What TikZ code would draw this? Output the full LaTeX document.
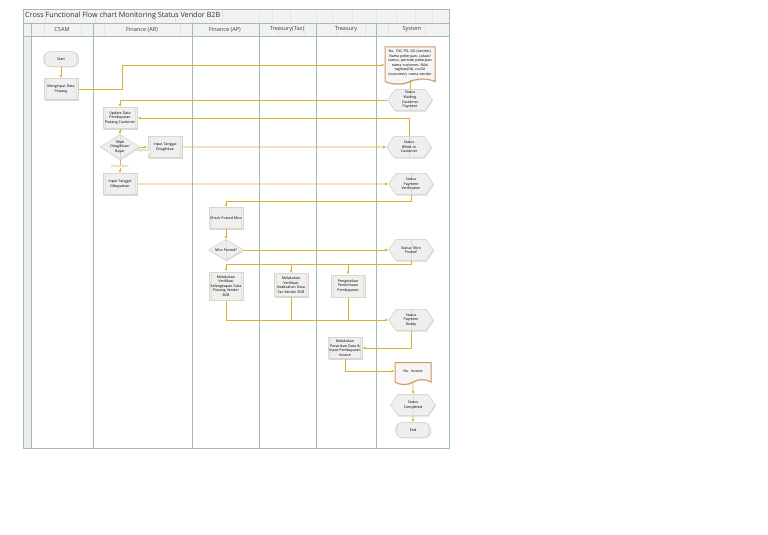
\documentclass[tikz,border=0pt]{standalone}
\usepackage{fontspec}
\setmainfont{Open Sans}
\usepackage{xcolor}
\usepackage{tikz}
\usetikzlibrary{positioning}
\usetikzlibrary{arrows.meta,shapes.geometric,shapes.symbols,shadows}
\definecolor{lanegreen}{HTML}{A3BDB3}
\definecolor{flowgold}{HTML}{DBB03A}
\definecolor{boxedge}{HTML}{DAD7C2}
\definecolor{boxfill}{HTML}{EFEFEF}
\definecolor{docedge}{HTML}{D29A63}
\definecolor{hexedge}{HTML}{D9D9D2}
\tikzset{
  flow/.style={draw=flowgold,line width=0.9pt,-{Latex[length=3pt,width=2.8pt]}},
  link/.style={draw=flowgold,line width=0.9pt},
  lane/.style={draw=lanegreen,line width=1pt},
  thin lane/.style={draw=lanegreen!35,line width=0.5pt},
  lanehead/.style={font=\fontsize{5.6}{6}\selectfont,text=black!75},
  side bars/.style={path picture={
    \draw[black!12,line width=0.4pt] ([xshift=2pt]path picture bounding box.north west) -- ([xshift=2pt]path picture bounding box.south west);
    \draw[black!12,line width=0.4pt] ([xshift=-2pt]path picture bounding box.north east) -- ([xshift=-2pt]path picture bounding box.south east);}},
  mid bar/.style={path picture={
    \draw[black!15,line width=0.4pt] (path picture bounding box.north) -- (path picture bounding box.south);}},
  task/.style={draw=boxedge,line width=1pt,fill=boxfill,font=\fontsize{3.6}{4.6}\selectfont,align=center,inner sep=0.5pt,side bars,
    minimum width=34pt,minimum height=21pt,text width=33pt,drop shadow={shadow xshift=1pt,shadow yshift=-1pt,fill=black!30}},
  startend/.style={draw=hexedge,line width=0.8pt,fill=boxfill,rounded corners=7pt,font=\fontsize{3.6}{4.6}\selectfont,side bars,
    minimum width=35pt,minimum height=15pt,inner sep=0pt,drop shadow={shadow xshift=0.6pt,shadow yshift=-0.8pt,fill=black!30}},
  decide/.style={diamond,draw=hexedge,line width=0.8pt,fill=boxfill,font=\fontsize{3.6}{4.6}\selectfont,align=center,aspect=1.6,mid bar,
    inner sep=0pt,minimum width=35pt,minimum height=21pt,drop shadow={shadow xshift=0.6pt,shadow yshift=-1pt,fill=black!30}},
  hexbox/.style={signal,signal to=east and west,signal pointer angle=110,draw=hexedge,line width=0.8pt,fill=boxfill,mid bar,
    font=\fontsize{3.6}{4.6}\selectfont,align=center,inner sep=0pt,text width=30pt,minimum width=39pt,minimum height=21pt,
    drop shadow={shadow xshift=0.6pt,shadow yshift=-1pt,fill=black!30}},
  docbox/.style={tape,tape bend top=none,draw=docedge,line width=1pt,fill=boxfill!60!white,font=\fontsize{3.6}{4.6}\selectfont,
    align=center,inner sep=0.5pt,drop shadow={shadow xshift=0.6pt,shadow yshift=-1pt,fill=black!30}},
  edgetext/.style={font=\fontsize{3.2}{4}\selectfont,text=flowgold!85!black,fill=white,inner sep=0.3pt}
}
\begin{document}
\begin{tikzpicture}[x=1pt,y=-1pt]
  \useasboundingbox (0,0) rectangle (768,535);
  % pool
  \fill[black!5] (23,10) rectangle (449,37);
  \fill[black!7] (23,37) rectangle (31,449);
  \foreach \x in {45,70,95,115,135,155,175,192,222,259,272,290,316,332,352,376,396,415,432}
    \draw[thin lane] (\x,10) -- (\x,23);
  \foreach \x in {44,81,104,150,180,278,304,336,365,388,425}
    \draw[thin lane] (\x,23) -- (\x,37);
  \draw[lane] (23,10) rectangle (449,448);
  \draw[thin lane,draw=lanegreen] (23,23) -- (449,23);
  \draw[lane] (23,37) -- (449,37);
  \foreach \x in {31,93,192,259,316,376}
    \draw[lane] (\x,23) -- (\x,448);
  \node (title) [anchor=west,font=\fontsize{7.2}{9}\selectfont,text=black!80,inner sep=0pt] at (25,15.5) {Cross Functional Flow chart Monitoring Status Vendor B2B};
  \node (csam) [lanehead] at (62,29.5) {CSAM};
  \node (ar) [lanehead] at (142,29.5) {Finance (AR)};
  \node (ap) [lanehead] at (225,29.5) {Finance (AP)};
  \node (tax) [lanehead] at (287,29.5) {Treasury(Tax)};
  \node (treasury) [lanehead] at (346,29.5) {Treasury};
  \node (system) [lanehead] at (412,29.5) {System};
  % csam
  \node (start) [startend] at (61,59) {Start};
  \node (input) [task] at (61,89) {Menginput Data\\Piutang};
  % finance ar
  \node (update) [task] at (120,118) {Update Data\\Pembayaran\\Piutang Customer};
  \node (paid) [decide] at (120,147) {Telah\\Ditagihkan/\\Bayar};
  \node (billed) [task] at (165,147) {Input Tanggal\\Ditagihkan};
  \node (payday) [task] at (120,184) {Input Tanggal\\Dibayarkan};
  % finance ap
  \node (check) [task] at (226,218) {Check Posted Miro};
  \node (posted) [decide] at (226,250) {Miro Posted?};
  \node (verif) [task,minimum height=28pt] at (226,286) {Melakukan\\Verifikasi\\Kelengkapan Data\\Piutang Vendor\\B2B};
  \node (verifTax) [task,minimum height=23pt] at (291,285) {Melakukan\\Verifikasi\\Keabsahan Data\\Tax Vendor B2B};
  \node (pay) [task,minimum height=22pt] at (348,286) {Pengecekan\\Penerimaan\\Pembayaran};
  \node (receipt) [task] at (345,348) {Melakukan\\Penarikan Data \&\\Input Pembayaran\\Invoice};
  % system
  \node (docTop) [docbox,text width=46pt,minimum width=50pt,minimum height=37pt] at (410,63) {No. DO, PO, GA (vendor),\\Nama pekerjaan, Lokasi/\\sumur, periode pekerjaan\\nama customer, Nilai\\tagihan(Gt), no.GA\\(customer), nama vendor};
  \node (waiting) [hexbox] at (410,100) {Status\\Waiting\\Customer\\Payment};
  \node (stBilled) [hexbox] at (409,147) {Status\\Billed to\\Customer};
  \node (stVerif) [hexbox] at (411,184) {Status\\Payment\\Verification};
  \node (stMiro) [hexbox] at (411,250) {Status 'Miro\\Posted'};
  \node (stReady) [hexbox] at (411,320) {Status\\Payment\\Ready};
  \node (noInv) [docbox,text width=32pt,minimum width=36pt,minimum height=22pt] at (413,371) {No. Invoice};
  \node (stDone) [hexbox] at (413,405) {Status\\Completed};
  \node (end) [startend] at (413,430) {End};
  % junctions
  \coordinate (j1) at (122,65);
  \coordinate (j2) at (291,264);
  \coordinate (j3) at (348,264);
  \coordinate (j4) at (291,320);
  \coordinate (j5) at (348,320);
  % connectors
  \draw[flow] (start) -- (input);
  \draw[flow] (input.east) -| (j1) -- (j1 -| docTop.west);
  \draw[flow] (waiting.west) -| (update.north);
  \draw[link] (docTop.south) -- (waiting.north);
  \draw[flow] (stBilled.north) |- (update.east);
  \draw[flow] (update) -- (paid);
  \draw[flow] (paid) -- (billed);
  \draw[flow] (billed) -- (stBilled);
  \draw[flow] (paid) -- node[edgetext] (dibayar) {Dibayarkan} (payday);
  \node (ditagih) [edgetext] at (142,151) {Ditagihkan};
  \draw[flow] (payday) -- (stVerif);
  \draw[flow] (stVerif.south) -- ++(0,7) -| (check.north);
  \draw[flow] (check) -- (posted);
  \draw[flow] (posted) -- (stMiro);
  \draw[flow] (stMiro.south) -- ++(0,3.5) -| (verif.north);
  \draw[flow] (j2) -- (verifTax.north);
  \draw[flow] (j3) -- (pay.north);
  \draw[flow] (verif.south) |- (stReady.west);
  \draw[link] (verifTax.south) -- (j4);
  \draw[link] (pay.south) -- (j5);
  \draw[flow] (stReady.south) |- (receipt.east);
  \draw[flow] (receipt.south) |- (noInv.west);
  \draw[flow] (noInv) -- (stDone);
  \draw[flow] (stDone) -- (end);
\end{tikzpicture}
\end{document}
